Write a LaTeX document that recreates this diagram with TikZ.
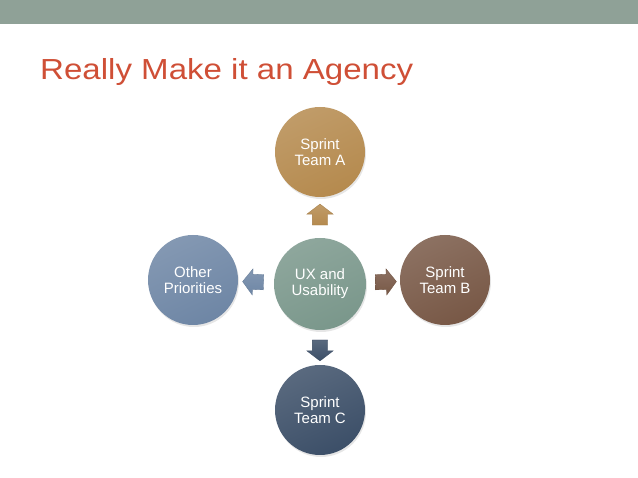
\documentclass[tikz,border=0pt]{standalone}
\usepackage{fontspec}
\setmainfont{Liberation Sans}
\usetikzlibrary{shapes.arrows,shadows}
\definecolor{barcol}{HTML}{8FA197}
\definecolor{titlered}{HTML}{CF4F36}
\definecolor{uxcol}{HTML}{7A978B}
\definecolor{teamA}{HTML}{B58A4E}
\definecolor{teamB}{HTML}{785846}
\definecolor{teamC}{HTML}{3C4F68}
\definecolor{other}{HTML}{6E86A5}
\tikzset{
  team/.style={circle, minimum size=90pt, inner sep=0pt, align=center, text=white,
    font=\fontsize{15}{16}\selectfont, top color=#1!85!white, bottom color=#1,
    shading angle=25, drop shadow={shadow xshift=1pt, shadow yshift=-2pt, opacity=.2}},
  blockarrow/.style={single arrow, top color=#1!85!white, bottom color=#1, draw=#1!90!black,
    line width=.3pt, minimum height=21pt, text height=7.5pt, text depth=7.5pt,
    single arrow head extend=5.5pt, single arrow tip angle=105, inner sep=0pt,
    sloped, allow upside down}
}
\begin{document}
\begin{tikzpicture}[x=1pt,y=1pt]
  \useasboundingbox (0,0) rectangle (638,478);
  \fill[barcol] (0,454) rectangle (638,478);
  \node[anchor=base west, text=titlered, font=\fontsize{29}{34}\selectfont, inner sep=0pt, xscale=1.14] (title) at (40,398) {Really Make it an Agency};
  \node[team=uxcol, minimum size=92pt] (ux) at (320,194) {UX and\\Usability};
  \foreach \nm/\x/\y/\col/\txt in {sa/320/326/teamA/{Sprint\\Team A}, sb/445/198/teamB/{Sprint\\Team B},
      sc/320/68/teamC/{Sprint\\Team C}, op/193/198/other/{Other\\Priorities}}
    {\node[team=\col] (\nm) at (\x,\y) {\txt};
     \path (ux) -- node[blockarrow=\col] {} (\nm);}
\end{tikzpicture}
\end{document}
